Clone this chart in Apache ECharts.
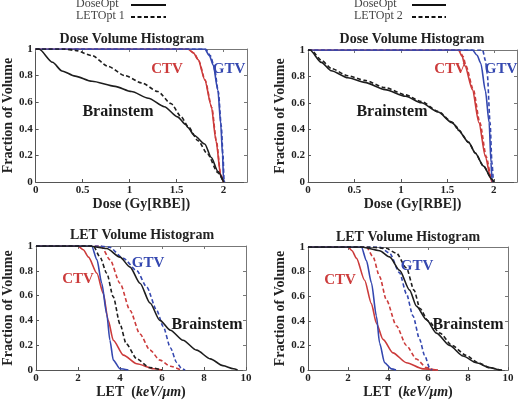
<!DOCTYPE html>
<html><head><meta charset="utf-8">
<script src="https://cdn.jsdelivr.net/npm/echarts@6/dist/echarts.min.js"></script>
<style>html,body{margin:0;padding:0;background:#fff}#c{width:519px;height:400px}</style>
</head><body><div id="c"></div>
<script>
// ---------- data ----------
// Top-left: Dose Volume Histogram, DoseOpt vs LETOpt 1
const tlBrainDose = [[0,1],[0.035,1],[0.18,0.90],[0.28,0.835],[0.42,0.796],[0.6,0.757],[0.845,0.719],[1.02,0.68],[1.2,0.63],[1.37,0.566],[1.51,0.49],[1.6,0.43],[1.62,0.41],[1.69,0.35],[1.8,0.286],[1.87,0.184],[1.94,0.08],[2.0,0]];
const tlBrainLet  = [[0,1],[0.3,1],[0.42,0.99],[0.6,0.95],[0.77,0.87],[0.95,0.8],[1.13,0.745],[1.3,0.68],[1.44,0.59],[1.55,0.49],[1.62,0.42],[1.73,0.31],[1.83,0.21],[1.94,0.07],[2.0,0]];
const tlCtvDose   = [[0,1],[1.62,1],[1.68,0.97],[1.73,0.92],[1.8,0.77],[1.87,0.57],[1.92,0.31],[1.97,0.05],[2.0,0]];
const tlCtvLet    = [[0,1],[1.625,1],[1.685,0.97],[1.735,0.915],[1.805,0.765],[1.875,0.56],[1.925,0.305],[1.97,0.055],[2.0,0]];
const tlGtvDose   = [[0,1],[1.8,1],[1.85,0.95],[1.89,0.88],[1.94,0.69],[1.97,0.44],[1.99,0.2],[2.0,0.02],[2.01,0]];
const tlGtvLet    = [[0,1],[1.81,1],[1.86,0.95],[1.9,0.87],[1.945,0.68],[1.975,0.43],[1.995,0.2],[2.005,0.02],[2.012,0]];
// Top-right: Dose Volume Histogram, DoseOpt vs LETOpt 2
const trBrainDose = [[0,1],[0.02,1],[0.144,0.906],[0.25,0.843],[0.43,0.79],[0.61,0.755],[0.83,0.70],[1.05,0.65],[1.22,0.6],[1.4,0.53],[1.55,0.45],[1.6,0.42],[1.62,0.39],[1.73,0.30],[1.8,0.22],[1.89,0.12],[1.98,0.02],[2.0,0]];
const trBrainLet  = [[0,1],[0.03,1],[0.15,0.92],[0.25,0.86],[0.43,0.805],[0.61,0.77],[0.83,0.715],[1.05,0.66],[1.22,0.61],[1.4,0.535],[1.55,0.455],[1.62,0.395],[1.73,0.3],[1.8,0.22],[1.89,0.12],[1.98,0.02],[2.0,0]];
const trCtvDose   = [[0,1],[1.62,1],[1.66,0.95],[1.69,0.88],[1.77,0.70],[1.84,0.45],[1.91,0.19],[1.97,0.02],[1.98,0]];
const trCtvLet    = [[0,1],[1.63,1],[1.67,0.95],[1.7,0.88],[1.78,0.70],[1.85,0.45],[1.92,0.19],[1.975,0.02],[1.99,0]];
const trGtvDose   = [[0,1],[1.77,1],[1.82,0.96],[1.86,0.9],[1.91,0.69],[1.95,0.45],[1.97,0.15],[1.98,0.02],[1.99,0]];
const trGtvLet    = [[0,1],[1.88,1],[1.91,0.92],[1.93,0.82],[1.96,0.45],[1.98,0.15],[1.995,0]];
// Bottom-left: LET Volume Histogram, DoseOpt vs LETOpt 1
const blBrainDose = [[0,1],[2.5,1],[3.37,0.98],[4.0,0.91],[4.48,0.83],[4.95,0.70],[5.43,0.54],[5.9,0.40],[6.4,0.32],[7.0,0.24],[7.65,0.16],[8.3,0.09],[8.9,0.035],[9.4,0.01],[9.6,0]];
const blBrainLet  = [[0,1],[2.73,1],[3.05,0.91],[3.37,0.78],[3.68,0.59],[4.0,0.37],[4.3,0.21],[4.8,0.09],[5.4,0.02],[6.0,0]];
const blCtvDose   = [[0,1],[2.0,1],[2.25,0.97],[2.5,0.91],[2.9,0.78],[3.2,0.62],[3.44,0.4],[3.68,0.24],[4.16,0.12],[4.8,0.05],[5.6,0.01],[6.0,0]];
const blCtvLet    = [[0,1],[3.1,1],[3.52,0.89],[4.0,0.70],[4.48,0.48],[4.95,0.29],[5.43,0.16],[5.9,0.08],[6.4,0.03],[6.9,0]];
const blGtvDose   = [[0,1],[2.65,1],[2.9,0.89],[3.13,0.7],[3.37,0.45],[3.52,0.24],[3.68,0.08],[4.0,0.01],[4.4,0]];
const blGtvLet    = [[0,1],[3.0,1],[3.5,0.99],[4.16,0.9],[4.8,0.80],[5.27,0.67],[5.75,0.48],[6.06,0.35],[6.4,0.18],[6.7,0.06],[6.94,0.01],[7.1,0]];
// Bottom-right: LET Volume Histogram, DoseOpt vs LETOpt 2
const brBrainDose = [[0,1],[2.67,1],[3.58,0.97],[4.08,0.92],[4.58,0.81],[5.08,0.65],[5.42,0.52],[5.92,0.41],[6.42,0.30],[7.08,0.2],[7.75,0.115],[8.42,0.06],[9.08,0.02],[9.58,0.003],[9.7,0]];
const brBrainLet  = [[0,1],[3.0,1],[3.9,0.99],[4.42,0.95],[4.92,0.83],[5.3,0.65],[5.6,0.5],[6.0,0.4],[6.6,0.3],[7.2,0.2],[7.9,0.12],[8.5,0.06],[9.1,0.02],[9.6,0]];
const brCtvDose   = [[0,1],[2.0,1],[2.2,0.97],[2.42,0.91],[2.83,0.73],[3.17,0.54],[3.42,0.38],[3.75,0.25],[4.25,0.14],[4.92,0.06],[5.75,0.01],[6.5,0]];
const brCtvLet    = [[0,1],[2.92,1],[3.25,0.92],[3.58,0.76],[3.92,0.57],[4.42,0.36],[4.92,0.2],[5.42,0.09],[5.92,0.02],[6.3,0]];
const brGtvDose   = [[0,1],[2.67,1],[2.92,0.89],[3.17,0.71],[3.42,0.44],[3.58,0.22],[3.83,0.06],[4.17,0.01],[4.4,0]];
const brGtvLet    = [[0,1],[3.58,1],[4.08,0.95],[4.58,0.79],[4.92,0.62],[5.25,0.44],[5.58,0.25],[5.83,0.12],[6.08,0.02],[6.2,0]];

const panelTitles = ['Dose Volume Histogram','Dose Volume Histogram','LET Volume Histogram','LET Volume Histogram'];
const legendLabels = [['DoseOpt','LETOpt 1'],['DoseOpt','LETOpt 2']];
const structLabels = ['CTV','GTV','Brainstem'];
const yName = 'Fraction of Volume';
const doseName = 'Dose (Gy[RBE])';

// ---------- styling ----------
const RED = '#cc3b3b', BLUE = '#3548b0', BLACK = '#1e1e1e';
const SERIF = '"Liberation Serif","DejaVu Serif",serif';
const grids = [
  {left:33, top:49, width:214, height:133},
  {left:308, top:50, width:209, height:132},
  {left:36, top:246, width:210, height:124},
  {left:308, top:247, width:200, height:124}
];
const panelAxes = [
  {max:2.25, interval:0.5, name:doseName},
  {max:2.25, interval:0.5, name:doseName},
  {max:10, interval:2, name:'{a|LET  (}{b|keV/μm}{a|)}'},
  {max:10, interval:2, name:'{a|LET  (}{b|keV/μm}{a|)}'}
];
const lbl = {fontFamily:SERIF, fontWeight:'bold', fontSize:11, color:'#222'};
const xAxis = [], yAxis = [];
panelAxes.forEach((p,i)=>{
  xAxis.push({type:'value', gridIndex:i, min:0, max:p.max, interval:p.interval,
    axisLine:{show:true, onZero:false, lineStyle:{color:'#555', width:1}},
    axisTick:{inside:true, length:3, lineStyle:{color:'#555'}},
    axisLabel:Object.assign({margin:3, showMaxLabel: p.max===10, formatter:v=>String(v)}, lbl),
    splitLine:{show:false},
    name:p.name, nameLocation:'middle', nameGap: i<2?15:11,
    nameTextStyle:{fontFamily:SERIF, fontWeight:'bold', fontSize:14, color:'#222',
      rich:{a:{fontFamily:SERIF, fontWeight:'bold', fontSize:14, color:'#222'},
            b:{fontFamily:SERIF, fontWeight:'bold', fontStyle:'italic', fontSize:14, color:'#222'}}}
  });
  yAxis.push({type:'value', gridIndex:i, min:0, max:1, interval:0.2,
    axisLine:{show:true, onZero:false, lineStyle:{color:'#555', width:1}},
    axisTick:{inside:true, length:3, lineStyle:{color:'#555'}},
    axisLabel:Object.assign({margin:3, formatter:v=>String(+v.toFixed(1))}, lbl),
    splitLine:{show:false},
    name:yName, nameLocation:'middle', nameGap:20,
    nameTextStyle:{fontFamily:SERIF, fontWeight:'bold', fontSize:14, color:'#222'}
  });
});
// box: top and right axes with inward ticks
panelAxes.forEach((p,i)=>{
  xAxis.push({type:'value', gridIndex:i, position:'top', min:0, max:p.max, interval:p.interval,
    axisLine:{show:true, onZero:false, lineStyle:{color:'#777'}},
    axisTick:{inside:true, length:3, lineStyle:{color:'#777'}}, axisLabel:{show:false}, splitLine:{show:false}});
  yAxis.push({type:'value', gridIndex:i, position:'right', min:0, max:1, interval:0.2,
    axisLine:{show:true, onZero:false, lineStyle:{color:'#777'}},
    axisTick:{inside:true, length:3, lineStyle:{color:'#777'}}, axisLabel:{show:false}, splitLine:{show:false}});
});

function mk(data, color, dashed, i, z){
  return {type:'line', xAxisIndex:i, yAxisIndex:i, data:data, showSymbol:false, symbol:'none',
    smooth:0.25, smoothMonotone:'x', z:z||2, animation:false, silent:true,
    lineStyle:{color:color, width:1.6, type: dashed?[4,2.5]:'solid'}};
}
const series = [
  mk(tlCtvDose,RED,false,0), mk(tlCtvLet,RED,true,0), mk(tlGtvDose,BLUE,false,0), mk(tlGtvLet,BLUE,true,0),
  mk(tlBrainDose,BLACK,false,0), mk(tlBrainLet,BLACK,true,0),
  mk(trCtvDose,RED,false,1), mk(trCtvLet,RED,true,1), mk(trGtvDose,BLUE,false,1), mk(trGtvLet,BLUE,true,1),
  mk(trBrainDose,BLACK,false,1), mk(trBrainLet,BLACK,true,1),
  mk(blCtvDose,RED,false,2), mk(blCtvLet,RED,true,2), mk(blGtvDose,BLUE,false,2), mk(blGtvLet,BLUE,true,2),
  mk(blBrainDose,BLACK,false,2), mk(blBrainLet,BLACK,true,2),
  mk(brCtvDose,RED,false,3), mk(brCtvLet,RED,true,3), mk(brGtvDose,BLUE,false,3), mk(brGtvLet,BLUE,true,3),
  mk(brBrainDose,BLACK,false,3), mk(brBrainLet,BLACK,true,3)
];

// ---------- text annotations ----------
function txt(s, x, y, size, color, align){
  return {type:'text', x:x, y:y, z:10, style:{text:s, fill:color||'#222', font:'bold '+(size||13)+'px '+SERIF,
    textAlign:align||'center', textVerticalAlign:'middle'}};
}
const graphic = [];
const titlePos = [[132,39],[412,39],[142,235],[408,237]];
panelTitles.forEach((t,i)=>graphic.push(txt(t,titlePos[i][0],titlePos[i][1],14,'#222')));
const labelPos = [
  [[167,69],[229,69],[118,112]],
  [[450,69],[501,69],[392,112]],
  [[78,279],[148,263],[207,325]],
  [[340,280],[417,266],[468,325]]
];
labelPos.forEach(pp=>{
  graphic.push(txt(structLabels[0],pp[0][0],pp[0][1],15,RED));
  graphic.push(txt(structLabels[1],pp[1][0],pp[1][1],15,BLUE));
  graphic.push(txt(structLabels[2],pp[2][0],pp[2][1],16,'#1a1a1a'));
});
const legendX = [[76,131,166],[354,412,446]];
legendLabels.forEach((ls,k)=>{
  const [tx,l0,l1] = legendX[k];
  ls.forEach((s,j)=>{
    const y = j===0?4:16;
    graphic.push({type:'text', x:tx, y:y, z:10, style:{text:s, fill:'#444', font:'12px '+SERIF, textAlign:'left', textVerticalAlign:'middle'}});
    graphic.push({type:'line', z:10, shape:{x1:l0,y1:y+1,x2:l1,y2:y+1}, style:{stroke:'#111', lineWidth:2, lineDash: j===0?null:[4,2.5]}});
  });
});

const chart = echarts.init(document.getElementById('c'), null, {renderer:'canvas'});
chart.setOption({animation:false, backgroundColor:'#fff', grid:grids, xAxis:xAxis, yAxis:yAxis, series:series, graphic:graphic});
</script></body></html>
